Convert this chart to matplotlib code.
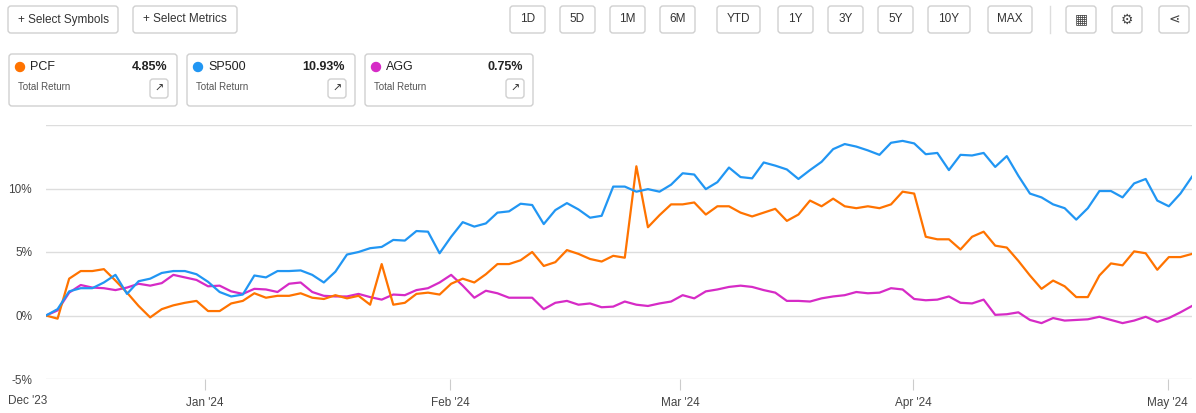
import matplotlib
matplotlib.use("Agg")
import matplotlib.pyplot as plt
from matplotlib.patches import FancyBboxPatch, Circle

pcf = [0, -0.25, 2.9, 3.5, 3.5, 3.65, 2.75, 1.8, 0.75, -0.15, 0.5, 0.8, 1.0, 1.15, 0.35, 0.35, 0.95, 1.15, 1.75, 1.4,
       1.55, 1.55, 1.75, 1.4, 1.3, 1.6, 1.35, 1.55, 0.85, 4.05, 0.85, 1.0, 1.7, 1.8, 1.65, 2.5, 2.9, 2.6, 3.25, 4.05,
       4.05, 4.35, 5.0, 3.9, 4.2, 5.15, 4.85, 4.45, 4.25, 4.7, 4.55, 11.75, 6.95, 7.9, 8.75, 8.75, 8.9, 7.95, 8.6, 8.6,
       8.1, 7.8, 8.1, 8.4, 7.45, 7.95, 9.05, 8.6, 9.2, 8.6, 8.45, 8.6, 8.45, 8.75, 9.75, 9.6, 6.2, 6.0, 6.0, 5.2,
       6.2, 6.6, 5.5, 5.35, 4.3, 3.15, 2.1, 2.75, 2.3, 1.45, 1.45, 3.15, 4.1, 3.95, 5.05, 4.9, 3.6, 4.6, 4.6, 4.85]
sp500 = [0, 0.5, 1.9, 2.15, 2.15, 2.6, 3.2, 1.7, 2.7, 2.9, 3.35, 3.5, 3.5, 3.25, 2.65, 1.85, 1.5, 1.65, 3.15, 3.0,
         3.5, 3.5, 3.55, 3.2, 2.6, 3.45, 4.8, 5.0, 5.3, 5.4, 5.95, 5.9, 6.65, 6.6, 4.9, 6.2, 7.35, 7.0, 7.25, 8.1,
         8.2, 8.8, 8.7, 7.2, 8.3, 8.85, 8.35, 7.7, 7.85, 10.15, 10.15, 9.75, 9.95, 9.75, 10.3, 11.2, 11.1, 9.95, 10.5, 11.65,
         10.9, 10.8, 12.05, 11.8, 11.5, 10.75, 11.45, 12.1, 13.1, 13.5, 13.3, 13.0, 12.65, 13.6, 13.75, 13.55, 12.7, 12.8, 11.45, 12.65,
         12.6, 12.8, 11.7, 12.55, 11.0, 9.6, 9.3, 8.75, 8.45, 7.55, 8.45, 9.8, 9.8, 9.3, 10.4, 10.75, 9.05, 8.6, 9.6, 10.93]
agg = [0, 0.4, 1.8, 2.4, 2.2, 2.15, 2.0, 2.2, 2.5, 2.35, 2.55, 3.2, 3.0, 2.8, 2.3, 2.35, 1.9, 1.7, 2.1, 2.05,
       1.85, 2.5, 2.6, 1.85, 1.55, 1.5, 1.5, 1.7, 1.45, 1.25, 1.65, 1.6, 2.0, 2.15, 2.6, 3.2, 2.35, 1.4, 1.95, 1.75,
       1.4, 1.4, 1.4, 0.5, 1.0, 1.15, 0.85, 0.95, 0.65, 0.7, 1.1, 0.85, 0.75, 0.95, 1.1, 1.6, 1.35, 1.9, 2.05, 2.25,
       2.35, 2.25, 2.0, 1.8, 1.15, 1.15, 1.1, 1.35, 1.5, 1.6, 1.85, 1.75, 1.8, 2.15, 2.05, 1.3, 1.2, 1.25, 1.5, 1.0,
       0.95, 1.25, 0.05, 0.1, 0.25, -0.35, -0.6, -0.2, -0.4, -0.35, -0.3, -0.1, -0.35, -0.6, -0.4, -0.1, -0.5, -0.2, 0.25, 0.75]

names = ["PCF", "SP500", "AGG"]
totals = ["4.85%", "10.93%", "0.75%"]
colors = ["#ff7300", "#2196f3", "#d62bc6"]
yticks = [-5, 0, 5, 10, 15]
ytick_labels = ["-5%", "0%", "5%", "10%", ""]
month_pos = [13.7, 34.9, 54.8, 74.9, 96.9]
month_labels = ["Jan '24", "Feb '24", "Mar '24", "Apr '24", "May '24"]
ranges = ["1D", "5D", "1M", "6M", "YTD", "1Y", "3Y", "5Y", "10Y", "MAX"]

W, H = 1196, 413
fig = plt.figure(figsize=(W / 100, H / 100), dpi=100)
plt.rcParams['font.family'] = ['Liberation Sans', 'DejaVu Sans']
ax = fig.add_axes([46 / W, (H - 379) / H, (1192 - 46) / W, (379 - 125) / H])
x = list(range(len(pcf)))
for s, c in zip([agg, pcf, sp500], [colors[2], colors[0], colors[1]]):
    ax.plot(x, s, color=c, lw=1.6)
ax.set_xlim(0, len(pcf) - 1)
ax.set_ylim(-5, 15)
ax.set_yticks(yticks)
ax.set_yticklabels(ytick_labels, fontsize=8.5, color="#444")
ax.grid(axis="y", color="#dddddd", lw=1)
ax.set_xticks(month_pos)
ax.set_xticklabels(month_labels, fontsize=8.5, color="#444")
ax.tick_params(axis="y", length=0, pad=10)
ax.tick_params(axis="x", length=8, color="#ccc", pad=5)
for sp in ax.spines.values():
    sp.set_visible(False)
ax.set_axisbelow(True)
fig.text(28 / W, 1 - 401 / H, "Dec '23", fontsize=8.5, color="#444", ha="center", va="center")

ov = fig.add_axes([0, 0, 1, 1], zorder=5)
ov.set_xlim(0, W); ov.set_ylim(H, 0); ov.axis("off"); ov.patch.set_alpha(0)

def box(x0, y0, x1, y1, r=3):
    ov.add_patch(FancyBboxPatch((x0, y0), x1 - x0, y1 - y0, boxstyle=f"round,pad=0,rounding_size={r}",
                                fc="white", ec="#d0d0d0", lw=1))

box(8, 6, 118, 33); ov.text(63, 19.5, "+ Select Symbols", ha="center", va="center", fontsize=8.5, color="#333")
box(133, 6, 237, 33); ov.text(185, 19.5, "+ Select Metrics", ha="center", va="center", fontsize=8.5, color="#333")
rx = [(510, 545), (560, 595), (610, 645), (660, 695), (717, 760), (778, 813), (828, 863), (878, 913), (928, 970), (988, 1032)]
for (a, b), t in zip(rx, ranges):
    box(a, 6, b, 33); ov.text((a + b) / 2, 19.5, t, ha="center", va="center", fontsize=8.5, color="#333")
ov.plot([1050, 1050], [6, 33], color="#ddd", lw=1)
for a, b in [(1066, 1096), (1112, 1142), (1159, 1189)]:
    box(a, 6, b, 33)
ov.text(1081, 19.5, "▦", ha="center", va="center", fontsize=10, color="#444")
ov.text(1127, 19.5, "⚙", ha="center", va="center", fontsize=10, color="#444")
ov.text(1174, 19.5, "⋖", ha="center", va="center", fontsize=10, color="#444")

for i, (n, t, c) in enumerate(zip(names, totals, colors)):
    x0 = 9 + i * 178
    box(x0, 54, x0 + 168, 106)
    ov.add_patch(Circle((x0 + 11, 67), 4.5, color=c))
    ov.text(x0 + 21, 67, n, va="center", fontsize=9, color="#222")
    ov.text(x0 + 158, 67, t, va="center", ha="right", fontsize=9, color="#222", fontweight="bold")
    ov.text(x0 + 9, 87, "Total Return", va="center", fontsize=7, color="#555")
    box(x0 + 141, 79, x0 + 159, 98, r=3)
    ov.text(x0 + 150, 88.5, "↗", ha="center", va="center", fontsize=8, color="#333")

fig.savefig("out.png", dpi=100)
